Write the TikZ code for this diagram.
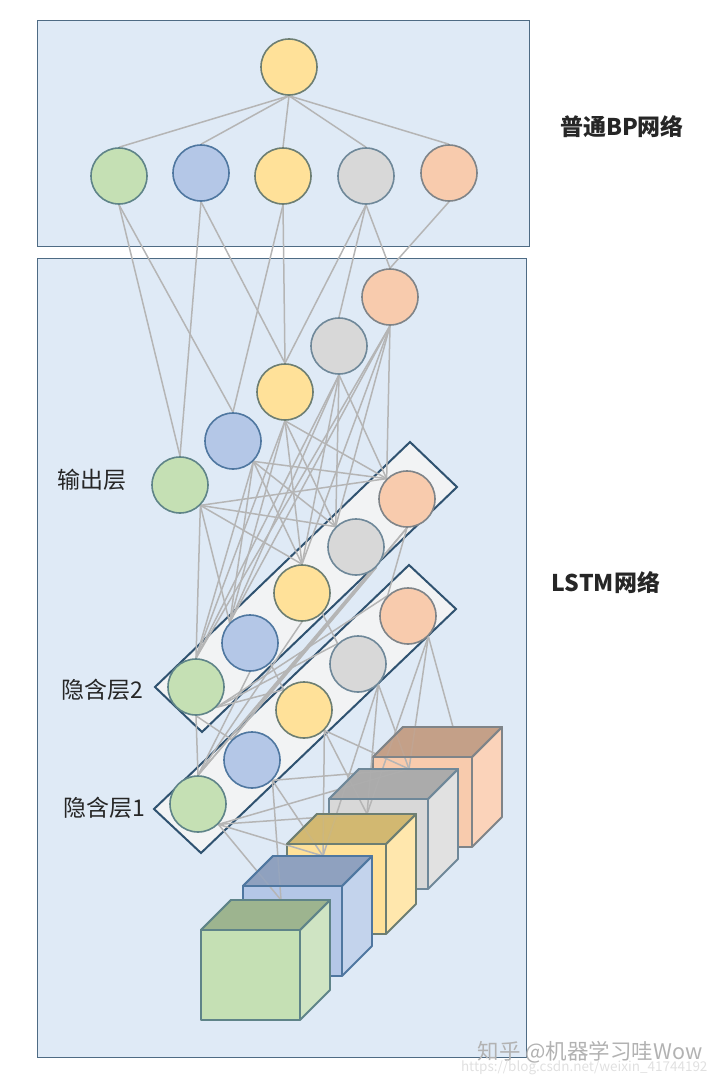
\documentclass[tikz,border=0pt]{standalone}
\usepackage{xcolor}
\usepackage{fontspec}
\usetikzlibrary{backgrounds}
\newfontfamily\cjk{Noto Sans CJK SC}

\definecolor{panelfill}{HTML}{DFEAF6}
\definecolor{paneledge}{HTML}{4E6B84}
\definecolor{bandfill}{HTML}{F2F3F4}
\definecolor{bandedge}{HTML}{2F5270}
\definecolor{linkgray}{HTML}{B5B5B5}

\definecolor{greenface}{HTML}{C5E0B4}
\definecolor{greentop}{HTML}{9DB48F}
\definecolor{greenside}{HTML}{CFE4C3}
\definecolor{greenedge}{HTML}{5F8488}
\definecolor{blueface}{HTML}{B4C7E7}
\definecolor{bluetop}{HTML}{8FA1BF}
\definecolor{blueside}{HTML}{C3D3EC}
\definecolor{blueedge}{HTML}{4F77A0}
\definecolor{yellowface}{HTML}{FFE199}
\definecolor{yellowtop}{HTML}{D2B871}
\definecolor{yellowside}{HTML}{FFE7AD}
\definecolor{yellowedge}{HTML}{6D7E72}
\definecolor{grayface}{HTML}{D8D8D8}
\definecolor{graytop}{HTML}{ABABAB}
\definecolor{grayside}{HTML}{E1E1E1}
\definecolor{grayedge}{HTML}{6F8899}
\definecolor{orangeface}{HTML}{F8CBAD}
\definecolor{orangetop}{HTML}{C4A088}
\definecolor{orangeside}{HTML}{FBD3BA}
\definecolor{orangeedge}{HTML}{7F8488}

\tikzset{
  neuron/.style={circle,minimum size=56pt,inner sep=0pt,line width=1.6pt},
  link/.style={draw=linkgray,line width=1.5pt},
  panel/.style={fill=panelfill,draw=paneledge,line width=1pt},
  band/.style={fill=bandfill,draw=bandedge,line width=2pt,line join=miter},
  cubeline/.style={line width=1.8pt,line join=round},
  layerlabel/.style={font=\cjk\fontsize{23}{27}\selectfont,text=black!85},
  netlabel/.style={font=\cjk\bfseries\fontsize{23}{27}\selectfont,text=black!85}
}

\begin{document}
\begin{tikzpicture}[x=1pt,y=-1pt]
\useasboundingbox (0,0) rectangle (720,1084);

% Drawing the BP network nodes
\node [neuron,draw=yellowedge,fill=yellowface] (top) at (289,67) {};
\foreach \n/\c/\x/\y in {1/green/119/176,2/blue/201/173,3/yellow/283/176,4/gray/366/176,5/orange/449/173}
  \node [neuron,draw=\c edge,fill=\c face] (bp\n) at (\x,\y) {};

% Drawing the output layer
\foreach \n/\c/\x/\y in {1/green/180/485,2/blue/233/441,3/yellow/285/392,4/gray/339/346,5/orange/390/297}
  \node [neuron,draw=\c edge,fill=\c face] (out\n) at (\x,\y) {};

% Drawing hidden layer 2
\foreach \n/\c/\x/\y in {1/green/196/687,2/blue/250/643,3/yellow/302/593,4/gray/356/547,5/orange/407/499}
  \node [neuron,draw=\c edge,fill=\c face] (hiddenb\n) at (\x,\y) {};

% Drawing hidden layer 1
\foreach \n/\c/\x/\y in {1/green/198/804,2/blue/252/760,3/yellow/304/710,4/gray/358/664,5/orange/408/616}
  \node [neuron,draw=\c edge,fill=\c face] (hiddena\n) at (\x,\y) {};

% Labels
\node [netlabel] (bplabel) at (622,127) {普通BP网络};
\node [netlabel] (lstmlabel) at (606,583) {LSTM网络};
\node [layerlabel] (outlabel) at (92,480) {输出层};
\node [layerlabel] (hiddenblabel) at (102,690) {隐含层2};
\node [layerlabel] (hiddenalabel) at (104,808) {隐含层1};

% Watermarks
\node [font=\cjk\fontsize{21.5}{25}\selectfont,text=black!30] (mark) at (590,1052) {知乎 @机器学习哇Wow};
\node [font=\cjk\fontsize{13.5}{16}\selectfont,text=black!12,anchor=east] (site) at (711,1068) {https://blog.csdn.net/weixin\_41744192};

\begin{scope}[on background layer]
  % Drawing the two panels
  \draw [panel] (37,20) rectangle (529,246);
  \draw [panel] (37,258) rectangle (526,1057);

  % Drawing the slanted bands
  \draw [band] (410,442) -- (457,487) -- (202,732) -- (155,687) -- cycle;
  \draw [band] (409,565) -- (456,609) -- (201,853) -- (154,809) -- cycle;

  % Drawing links of the BP network
  \foreach \n in {1,...,5}
    \draw [link] (top.south) -- (bp\n.north);
  \foreach \a/\b in {1/1,1/2,2/1,2/3,3/2,3/3,4/3,4/4,4/5,5/5}
    \draw [link] (bp\a.south) -- (out\b.north);

  % Drawing links from the output layer to hidden layer 2
  \foreach \a/\p in {1/-45,2/-45,3/-90,4/-90,5/-90}
    \foreach \b/\q in {1/90,2/135,3/90,4/135,5/135}
      \draw [link] (out\a.\p) -- (hiddenb\b.\q);

  % Drawing links from hidden layer 2 to hidden layer 1
  \foreach \a/\p/\b/\q in {1/-90/1/90,1/-90/2/135,1/-45/3/135,1/-45/4/135,1/-45/5/135,
                           2/-90/1/90,2/-45/3/135,3/-90/1/90,3/-45/4/135,
                           4/-45/1/90,4/-45/2/135,5/-90/1/90,5/-90/2/135,5/-90/5/135}
    \draw [link] (hiddenb\a.\p) -- (hiddena\b.\q);

  % Drawing the cubes, back to front, each with its links
  \foreach \n/\c/\x/\y/\froms in {5/orange/373/757/{5},4/gray/329/799/{1,2,3,4,5},3/yellow/287/844/{1,3,4,5},
                                  2/blue/243/886/{1,2,3,4},1/green/201/930/{1,2}} {
    \draw [cubeline,draw=\c edge,fill=\c side] (\x+99,\y) -- (\x+129,\y-30) -- (\x+129,\y+60) -- (\x+99,\y+90) -- cycle;
    \draw [cubeline,draw=\c edge,fill=\c top] (\x,\y) -- (\x+30,\y-30) -- (\x+129,\y-30) -- (\x+99,\y) -- cycle;
    \draw [cubeline,draw=\c edge,fill=\c face] (\x,\y) rectangle (\x+99,\y+90);
    \coordinate (cube\n) at (\x+80,\y-30);
    \foreach \a in \froms
      \draw [link] (hiddena\a.-45) -- (cube\n);
  }

  % The top faces lie over the links
  \foreach \c/\x/\y in {orange/373/757,gray/329/799,yellow/287/844,blue/243/886,green/201/930}
    \draw [cubeline,draw=\c edge,fill=\c top,fill opacity=0.8] (\x,\y) -- (\x+30,\y-30) -- (\x+129,\y-30) -- (\x+99,\y) -- cycle;
\end{scope}
\end{tikzpicture}
\end{document}
